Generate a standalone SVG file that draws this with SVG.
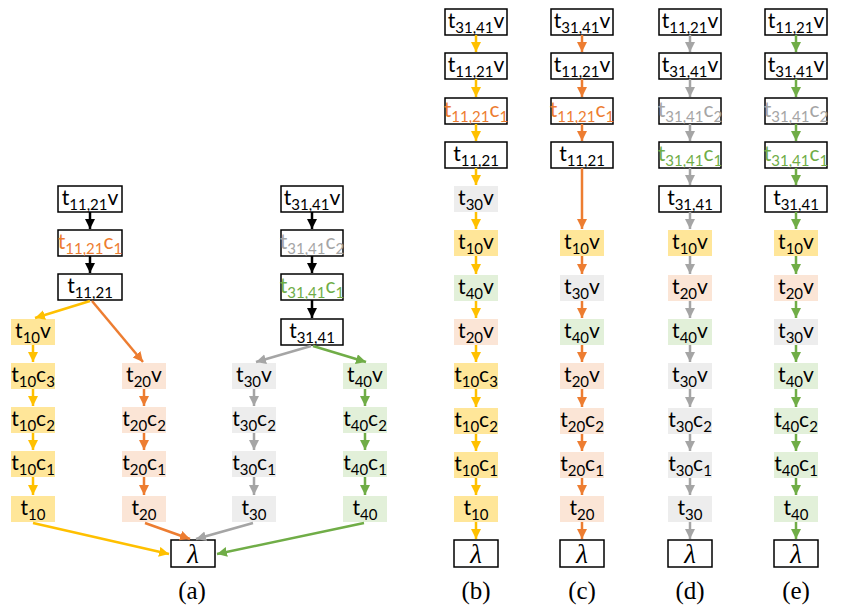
<svg xmlns="http://www.w3.org/2000/svg" width="842" height="613" viewBox="0 0 842 613">
<style>
text{font-family:Lato,"Open Sans","Liberation Sans",sans-serif;font-size:21px;fill:#000;text-anchor:middle}
.s{font-size:15px}
.or{fill:#ED7D31}.gr{fill:#A5A5A5}.gn{fill:#70AD47}
.bx{fill:#fff;stroke:#000;stroke-width:1.5}
.fy{fill:#FFE699}.fo{fill:#FBE5D6}.fg{fill:#EDEDED}.fn{fill:#E2F0D9}
.lam{font-family:"Liberation Serif",serif;font-style:italic;font-size:27px}
.cap{font-family:"Liberation Serif",serif;font-size:25px}
line{stroke-width:2.5}
.ay{stroke:#FFC000;marker-end:url(#my)}.ao{stroke:#ED7D31;marker-end:url(#mo)}
.ag{stroke:#A5A5A5;marker-end:url(#mg)}.an{stroke:#70AD47;marker-end:url(#mn)}
.ak{stroke:#000;marker-end:url(#mk)}
</style>
<defs>
<marker id="my" markerUnits="userSpaceOnUse" markerWidth="12" markerHeight="12" refX="10" refY="5" orient="auto"><path d="M0,0L10,5L0,10z" fill="#FFC000"/></marker>
<marker id="mo" markerUnits="userSpaceOnUse" markerWidth="12" markerHeight="12" refX="10" refY="5" orient="auto"><path d="M0,0L10,5L0,10z" fill="#ED7D31"/></marker>
<marker id="mg" markerUnits="userSpaceOnUse" markerWidth="12" markerHeight="12" refX="10" refY="5" orient="auto"><path d="M0,0L10,5L0,10z" fill="#A5A5A5"/></marker>
<marker id="mn" markerUnits="userSpaceOnUse" markerWidth="12" markerHeight="12" refX="10" refY="5" orient="auto"><path d="M0,0L10,5L0,10z" fill="#70AD47"/></marker>
<marker id="mk" markerUnits="userSpaceOnUse" markerWidth="12" markerHeight="12" refX="10" refY="5" orient="auto"><path d="M0,0L10,5L0,10z" fill="#000"/></marker>
</defs>

<!-- Panel (a) -->
<g id="a-n1"><rect class="bx" x="58" y="186" width="64" height="26"/><text x="90" y="205">t<tspan class="s" dy="5">11,21</tspan><tspan dy="-5">v</tspan></text></g>
<g id="a-n2"><rect class="bx" x="58" y="230" width="64" height="26"/><text class="or" x="90" y="249">t<tspan class="s" dy="5">11,21</tspan><tspan dy="-5">c</tspan><tspan class="s" dy="5">1</tspan></text></g>
<g id="a-n3"><rect class="bx" x="58" y="274" width="64" height="26"/><text x="90" y="293">t<tspan class="s" dy="5">11,21</tspan></text></g>
<g id="a-m1"><rect class="bx" x="281" y="186" width="62" height="26"/><text x="312" y="205">t<tspan class="s" dy="5">31,41</tspan><tspan dy="-5">v</tspan></text></g>
<g id="a-m2"><rect class="bx" x="281" y="230" width="62" height="26"/><text class="gr" x="312" y="249">t<tspan class="s" dy="5">31,41</tspan><tspan dy="-5">c</tspan><tspan class="s" dy="5">2</tspan></text></g>
<g id="a-m3"><rect class="bx" x="281" y="274" width="62" height="26"/><text class="gn" x="312" y="293">t<tspan class="s" dy="5">31,41</tspan><tspan dy="-5">c</tspan><tspan class="s" dy="5">1</tspan></text></g>
<g id="a-m4"><rect class="bx" x="281" y="319" width="62" height="26"/><text x="312" y="338">t<tspan class="s" dy="5">31,41</tspan></text></g>

<g id="a-y1"><rect class="fy" x="11" y="319" width="44" height="26"/><text x="33" y="338">t<tspan class="s" dy="5">10</tspan><tspan dy="-5">v</tspan></text></g>
<g id="a-y2"><rect class="fy" x="11" y="363" width="44" height="26"/><text x="33" y="382">t<tspan class="s" dy="5">10</tspan><tspan dy="-5">c</tspan><tspan class="s" dy="5">3</tspan></text></g>
<g id="a-y3"><rect class="fy" x="11" y="407" width="44" height="26"/><text x="33" y="426">t<tspan class="s" dy="5">10</tspan><tspan dy="-5">c</tspan><tspan class="s" dy="5">2</tspan></text></g>
<g id="a-y4"><rect class="fy" x="11" y="451" width="44" height="26"/><text x="33" y="470">t<tspan class="s" dy="5">10</tspan><tspan dy="-5">c</tspan><tspan class="s" dy="5">1</tspan></text></g>
<g id="a-y5"><rect class="fy" x="11" y="496" width="44" height="26"/><text x="33" y="515">t<tspan class="s" dy="5">10</tspan></text></g>

<g id="a-o1"><rect class="fo" x="122" y="363" width="44" height="26"/><text x="144" y="382">t<tspan class="s" dy="5">20</tspan><tspan dy="-5">v</tspan></text></g>
<g id="a-o2"><rect class="fo" x="122" y="407" width="44" height="26"/><text x="144" y="426">t<tspan class="s" dy="5">20</tspan><tspan dy="-5">c</tspan><tspan class="s" dy="5">2</tspan></text></g>
<g id="a-o3"><rect class="fo" x="122" y="451" width="44" height="26"/><text x="144" y="470">t<tspan class="s" dy="5">20</tspan><tspan dy="-5">c</tspan><tspan class="s" dy="5">1</tspan></text></g>
<g id="a-o4"><rect class="fo" x="122" y="496" width="44" height="26"/><text x="144" y="515">t<tspan class="s" dy="5">20</tspan></text></g>

<g id="a-g1"><rect class="fg" x="232" y="363" width="44" height="26"/><text x="254" y="382">t<tspan class="s" dy="5">30</tspan><tspan dy="-5">v</tspan></text></g>
<g id="a-g2"><rect class="fg" x="232" y="407" width="44" height="26"/><text x="254" y="426">t<tspan class="s" dy="5">30</tspan><tspan dy="-5">c</tspan><tspan class="s" dy="5">2</tspan></text></g>
<g id="a-g3"><rect class="fg" x="232" y="451" width="44" height="26"/><text x="254" y="470">t<tspan class="s" dy="5">30</tspan><tspan dy="-5">c</tspan><tspan class="s" dy="5">1</tspan></text></g>
<g id="a-g4"><rect class="fg" x="232" y="496" width="44" height="26"/><text x="254" y="515">t<tspan class="s" dy="5">30</tspan></text></g>

<g id="a-n41"><rect class="fn" x="343" y="363" width="44" height="26"/><text x="365" y="382">t<tspan class="s" dy="5">40</tspan><tspan dy="-5">v</tspan></text></g>
<g id="a-n42"><rect class="fn" x="343" y="407" width="44" height="26"/><text x="365" y="426">t<tspan class="s" dy="5">40</tspan><tspan dy="-5">c</tspan><tspan class="s" dy="5">2</tspan></text></g>
<g id="a-n43"><rect class="fn" x="343" y="451" width="44" height="26"/><text x="365" y="470">t<tspan class="s" dy="5">40</tspan><tspan dy="-5">c</tspan><tspan class="s" dy="5">1</tspan></text></g>
<g id="a-n44"><rect class="fn" x="343" y="496" width="44" height="26"/><text x="365" y="515">t<tspan class="s" dy="5">40</tspan></text></g>

<g id="a-lam"><rect class="bx" x="171" y="540" width="44" height="27"/><text class="lam" x="193" y="563">λ</text></g>
<text class="cap" x="192" y="599">(a)</text>

<!-- Right panels -->
<g id="b">
<g id="b1"><rect class="bx" x="445" y="9" width="62" height="26"/><text x="476" y="28">t<tspan class="s" dy="5">31,41</tspan><tspan dy="-5">v</tspan></text></g>
<g id="b2"><rect class="bx" x="445" y="53" width="62" height="26"/><text x="476" y="72">t<tspan class="s" dy="5">11,21</tspan><tspan dy="-5">v</tspan></text></g>
<g id="b3"><rect class="bx" x="445" y="98" width="62" height="26"/><text class="or" x="476" y="117">t<tspan class="s" dy="5">11,21</tspan><tspan dy="-5">c</tspan><tspan class="s" dy="5">1</tspan></text></g>
<g id="b4"><rect class="bx" x="445" y="142" width="62" height="26"/><text x="476" y="161">t<tspan class="s" dy="5">11,21</tspan></text></g>
<g id="b5"><rect class="fg" x="454" y="186" width="44" height="26"/><text x="476" y="205">t<tspan class="s" dy="5">30</tspan><tspan dy="-5">v</tspan></text></g>
<g id="b6"><rect class="fy" x="454" y="230" width="44" height="26"/><text x="476" y="249">t<tspan class="s" dy="5">10</tspan><tspan dy="-5">v</tspan></text></g>
<g id="b7"><rect class="fn" x="454" y="275" width="44" height="26"/><text x="476" y="294">t<tspan class="s" dy="5">40</tspan><tspan dy="-5">v</tspan></text></g>
<g id="b8"><rect class="fo" x="454" y="319" width="44" height="26"/><text x="476" y="338">t<tspan class="s" dy="5">20</tspan><tspan dy="-5">v</tspan></text></g>
<g id="b9"><rect class="fy" x="454" y="363" width="44" height="26"/><text x="476" y="382">t<tspan class="s" dy="5">10</tspan><tspan dy="-5">c</tspan><tspan class="s" dy="5">3</tspan></text></g>
<g id="b10"><rect class="fy" x="454" y="408" width="44" height="26"/><text x="476" y="427">t<tspan class="s" dy="5">10</tspan><tspan dy="-5">c</tspan><tspan class="s" dy="5">2</tspan></text></g>
<g id="b11"><rect class="fy" x="454" y="452" width="44" height="26"/><text x="476" y="471">t<tspan class="s" dy="5">10</tspan><tspan dy="-5">c</tspan><tspan class="s" dy="5">1</tspan></text></g>
<g id="b12"><rect class="fy" x="454" y="496" width="44" height="26"/><text x="476" y="515">t<tspan class="s" dy="5">10</tspan></text></g>
<g id="b13"><rect class="bx" x="454" y="540" width="44" height="27"/><text class="lam" x="476" y="563">λ</text></g>
</g>
<text class="cap" x="476" y="599">(b)</text>

<g id="c">
<g id="c1"><rect class="bx" x="551" y="9" width="62" height="26"/><text x="582" y="28">t<tspan class="s" dy="5">31,41</tspan><tspan dy="-5">v</tspan></text></g>
<g id="c2"><rect class="bx" x="551" y="53" width="62" height="26"/><text x="582" y="72">t<tspan class="s" dy="5">11,21</tspan><tspan dy="-5">v</tspan></text></g>
<g id="c3"><rect class="bx" x="551" y="98" width="62" height="26"/><text class="or" x="582" y="117">t<tspan class="s" dy="5">11,21</tspan><tspan dy="-5">c</tspan><tspan class="s" dy="5">1</tspan></text></g>
<g id="c4"><rect class="bx" x="551" y="142" width="62" height="26"/><text x="582" y="161">t<tspan class="s" dy="5">11,21</tspan></text></g>
<g id="c6"><rect class="fy" x="560" y="230" width="44" height="26"/><text x="582" y="249">t<tspan class="s" dy="5">10</tspan><tspan dy="-5">v</tspan></text></g>
<g id="c7"><rect class="fg" x="560" y="275" width="44" height="26"/><text x="582" y="294">t<tspan class="s" dy="5">30</tspan><tspan dy="-5">v</tspan></text></g>
<g id="c8"><rect class="fn" x="560" y="319" width="44" height="26"/><text x="582" y="338">t<tspan class="s" dy="5">40</tspan><tspan dy="-5">v</tspan></text></g>
<g id="c9"><rect class="fo" x="560" y="363" width="44" height="26"/><text x="582" y="382">t<tspan class="s" dy="5">20</tspan><tspan dy="-5">v</tspan></text></g>
<g id="c10"><rect class="fo" x="560" y="408" width="44" height="26"/><text x="582" y="427">t<tspan class="s" dy="5">20</tspan><tspan dy="-5">c</tspan><tspan class="s" dy="5">2</tspan></text></g>
<g id="c11"><rect class="fo" x="560" y="452" width="44" height="26"/><text x="582" y="471">t<tspan class="s" dy="5">20</tspan><tspan dy="-5">c</tspan><tspan class="s" dy="5">1</tspan></text></g>
<g id="c12"><rect class="fo" x="560" y="496" width="44" height="26"/><text x="582" y="515">t<tspan class="s" dy="5">20</tspan></text></g>
<g id="c13"><rect class="bx" x="560" y="540" width="44" height="27"/><text class="lam" x="582" y="563">λ</text></g>
</g>
<text class="cap" x="582" y="599">(c)</text>

<g id="d">
<g id="d1"><rect class="bx" x="659" y="9" width="62" height="26"/><text x="690" y="28">t<tspan class="s" dy="5">11,21</tspan><tspan dy="-5">v</tspan></text></g>
<g id="d2"><rect class="bx" x="659" y="53" width="62" height="26"/><text x="690" y="72">t<tspan class="s" dy="5">31,41</tspan><tspan dy="-5">v</tspan></text></g>
<g id="d3"><rect class="bx" x="659" y="98" width="62" height="26"/><text class="gr" x="690" y="117">t<tspan class="s" dy="5">31,41</tspan><tspan dy="-5">c</tspan><tspan class="s" dy="5">2</tspan></text></g>
<g id="d4"><rect class="bx" x="659" y="142" width="62" height="26"/><text class="gn" x="690" y="161">t<tspan class="s" dy="5">31,41</tspan><tspan dy="-5">c</tspan><tspan class="s" dy="5">1</tspan></text></g>
<g id="d5"><rect class="bx" x="659" y="186" width="62" height="26"/><text x="690" y="205">t<tspan class="s" dy="5">31,41</tspan></text></g>
<g id="d6"><rect class="fy" x="668" y="230" width="44" height="26"/><text x="690" y="249">t<tspan class="s" dy="5">10</tspan><tspan dy="-5">v</tspan></text></g>
<g id="d7"><rect class="fo" x="668" y="275" width="44" height="26"/><text x="690" y="294">t<tspan class="s" dy="5">20</tspan><tspan dy="-5">v</tspan></text></g>
<g id="d8"><rect class="fn" x="668" y="319" width="44" height="26"/><text x="690" y="338">t<tspan class="s" dy="5">40</tspan><tspan dy="-5">v</tspan></text></g>
<g id="d9"><rect class="fg" x="668" y="363" width="44" height="26"/><text x="690" y="382">t<tspan class="s" dy="5">30</tspan><tspan dy="-5">v</tspan></text></g>
<g id="d10"><rect class="fg" x="668" y="408" width="44" height="26"/><text x="690" y="427">t<tspan class="s" dy="5">30</tspan><tspan dy="-5">c</tspan><tspan class="s" dy="5">2</tspan></text></g>
<g id="d11"><rect class="fg" x="668" y="452" width="44" height="26"/><text x="690" y="471">t<tspan class="s" dy="5">30</tspan><tspan dy="-5">c</tspan><tspan class="s" dy="5">1</tspan></text></g>
<g id="d12"><rect class="fg" x="668" y="496" width="44" height="26"/><text x="690" y="515">t<tspan class="s" dy="5">30</tspan></text></g>
<g id="d13"><rect class="bx" x="668" y="540" width="44" height="27"/><text class="lam" x="690" y="563">λ</text></g>
</g>
<text class="cap" x="690" y="599">(d)</text>

<g id="e">
<g id="e1"><rect class="bx" x="765" y="9" width="62" height="26"/><text x="796" y="28">t<tspan class="s" dy="5">11,21</tspan><tspan dy="-5">v</tspan></text></g>
<g id="e2"><rect class="bx" x="765" y="53" width="62" height="26"/><text x="796" y="72">t<tspan class="s" dy="5">31,41</tspan><tspan dy="-5">v</tspan></text></g>
<g id="e3"><rect class="bx" x="765" y="98" width="62" height="26"/><text class="gr" x="796" y="117">t<tspan class="s" dy="5">31,41</tspan><tspan dy="-5">c</tspan><tspan class="s" dy="5">2</tspan></text></g>
<g id="e4"><rect class="bx" x="765" y="142" width="62" height="26"/><text class="gn" x="796" y="161">t<tspan class="s" dy="5">31,41</tspan><tspan dy="-5">c</tspan><tspan class="s" dy="5">1</tspan></text></g>
<g id="e5"><rect class="bx" x="765" y="186" width="62" height="26"/><text x="796" y="205">t<tspan class="s" dy="5">31,41</tspan></text></g>
<g id="e6"><rect class="fy" x="774" y="230" width="44" height="26"/><text x="796" y="249">t<tspan class="s" dy="5">10</tspan><tspan dy="-5">v</tspan></text></g>
<g id="e7"><rect class="fo" x="774" y="275" width="44" height="26"/><text x="796" y="294">t<tspan class="s" dy="5">20</tspan><tspan dy="-5">v</tspan></text></g>
<g id="e8"><rect class="fg" x="774" y="319" width="44" height="26"/><text x="796" y="338">t<tspan class="s" dy="5">30</tspan><tspan dy="-5">v</tspan></text></g>
<g id="e9"><rect class="fn" x="774" y="363" width="44" height="26"/><text x="796" y="382">t<tspan class="s" dy="5">40</tspan><tspan dy="-5">v</tspan></text></g>
<g id="e10"><rect class="fn" x="774" y="408" width="44" height="26"/><text x="796" y="427">t<tspan class="s" dy="5">40</tspan><tspan dy="-5">c</tspan><tspan class="s" dy="5">2</tspan></text></g>
<g id="e11"><rect class="fn" x="774" y="452" width="44" height="26"/><text x="796" y="471">t<tspan class="s" dy="5">40</tspan><tspan dy="-5">c</tspan><tspan class="s" dy="5">1</tspan></text></g>
<g id="e12"><rect class="fn" x="774" y="496" width="44" height="26"/><text x="796" y="515">t<tspan class="s" dy="5">40</tspan></text></g>
<g id="e13"><rect class="bx" x="774" y="540" width="44" height="27"/><text class="lam" x="796" y="563">λ</text></g>
</g>
<text class="cap" x="796" y="599">(e)</text>

<g id="connectors">
<line class="ak" x1="90" y1="212" x2="90" y2="229"/>
<line class="ak" x1="90" y1="256" x2="90" y2="273"/>
<line class="ak" x1="312" y1="212" x2="312" y2="229"/>
<line class="ak" x1="312" y1="256" x2="312" y2="273"/>
<line class="ak" x1="312" y1="300" x2="312" y2="318"/>
<line class="ay" x1="90" y1="301" x2="35" y2="318"/>
<line class="ao" x1="92" y1="301" x2="143" y2="362"/>
<line class="ag" x1="311" y1="346" x2="256" y2="362"/>
<line class="an" x1="313" y1="346" x2="366" y2="362"/>
<line class="ay" x1="33" y1="345" x2="33" y2="362"/>
<line class="ay" x1="33" y1="389" x2="33" y2="406"/>
<line class="ay" x1="33" y1="433" x2="33" y2="450"/>
<line class="ay" x1="33" y1="477" x2="33" y2="495"/>
<line class="ao" x1="144" y1="389" x2="144" y2="406"/>
<line class="ao" x1="144" y1="433" x2="144" y2="450"/>
<line class="ao" x1="144" y1="477" x2="144" y2="495"/>
<line class="ag" x1="254" y1="389" x2="254" y2="406"/>
<line class="ag" x1="254" y1="433" x2="254" y2="450"/>
<line class="ag" x1="254" y1="477" x2="254" y2="495"/>
<line class="an" x1="365" y1="389" x2="365" y2="406"/>
<line class="an" x1="365" y1="433" x2="365" y2="450"/>
<line class="an" x1="365" y1="477" x2="365" y2="495"/>
<line class="ay" x1="33" y1="523" x2="169" y2="554"/>
<line class="ao" x1="145" y1="523" x2="190" y2="539"/>
<line class="ag" x1="253" y1="523" x2="196" y2="539"/>
<line class="an" x1="364" y1="523" x2="217" y2="554"/>
<line class="ay" x1="476" y1="35" x2="476" y2="52"/>
<line class="ay" x1="476" y1="79" x2="476" y2="97"/>
<line class="ay" x1="476" y1="124" x2="476" y2="141"/>
<line class="ay" x1="476" y1="168" x2="476" y2="185"/>
<line class="ay" x1="476" y1="212" x2="476" y2="229"/>
<line class="ay" x1="476" y1="256" x2="476" y2="274"/>
<line class="ay" x1="476" y1="301" x2="476" y2="318"/>
<line class="ay" x1="476" y1="345" x2="476" y2="362"/>
<line class="ay" x1="476" y1="389" x2="476" y2="407"/>
<line class="ay" x1="476" y1="434" x2="476" y2="451"/>
<line class="ay" x1="476" y1="478" x2="476" y2="495"/>
<line class="ay" x1="476" y1="522" x2="476" y2="539"/>
<line class="ao" x1="582" y1="35" x2="582" y2="52"/>
<line class="ao" x1="582" y1="79" x2="582" y2="97"/>
<line class="ao" x1="582" y1="124" x2="582" y2="141"/>
<line class="ao" x1="582" y1="168" x2="582" y2="229"/>
<line class="ao" x1="582" y1="256" x2="582" y2="274"/>
<line class="ao" x1="582" y1="301" x2="582" y2="318"/>
<line class="ao" x1="582" y1="345" x2="582" y2="362"/>
<line class="ao" x1="582" y1="389" x2="582" y2="407"/>
<line class="ao" x1="582" y1="434" x2="582" y2="451"/>
<line class="ao" x1="582" y1="478" x2="582" y2="495"/>
<line class="ao" x1="582" y1="522" x2="582" y2="539"/>
<line class="ag" x1="690" y1="35" x2="690" y2="52"/>
<line class="ag" x1="690" y1="79" x2="690" y2="97"/>
<line class="ag" x1="690" y1="124" x2="690" y2="141"/>
<line class="ag" x1="690" y1="168" x2="690" y2="185"/>
<line class="ag" x1="690" y1="212" x2="690" y2="229"/>
<line class="ag" x1="690" y1="256" x2="690" y2="274"/>
<line class="ag" x1="690" y1="301" x2="690" y2="318"/>
<line class="ag" x1="690" y1="345" x2="690" y2="362"/>
<line class="ag" x1="690" y1="389" x2="690" y2="407"/>
<line class="ag" x1="690" y1="434" x2="690" y2="451"/>
<line class="ag" x1="690" y1="478" x2="690" y2="495"/>
<line class="ag" x1="690" y1="522" x2="690" y2="539"/>
<line class="an" x1="796" y1="35" x2="796" y2="52"/>
<line class="an" x1="796" y1="79" x2="796" y2="97"/>
<line class="an" x1="796" y1="124" x2="796" y2="141"/>
<line class="an" x1="796" y1="168" x2="796" y2="185"/>
<line class="an" x1="796" y1="212" x2="796" y2="229"/>
<line class="an" x1="796" y1="256" x2="796" y2="274"/>
<line class="an" x1="796" y1="301" x2="796" y2="318"/>
<line class="an" x1="796" y1="345" x2="796" y2="362"/>
<line class="an" x1="796" y1="389" x2="796" y2="407"/>
<line class="an" x1="796" y1="434" x2="796" y2="451"/>
<line class="an" x1="796" y1="478" x2="796" y2="495"/>
<line class="an" x1="796" y1="522" x2="796" y2="539"/>
</g>
</svg>
